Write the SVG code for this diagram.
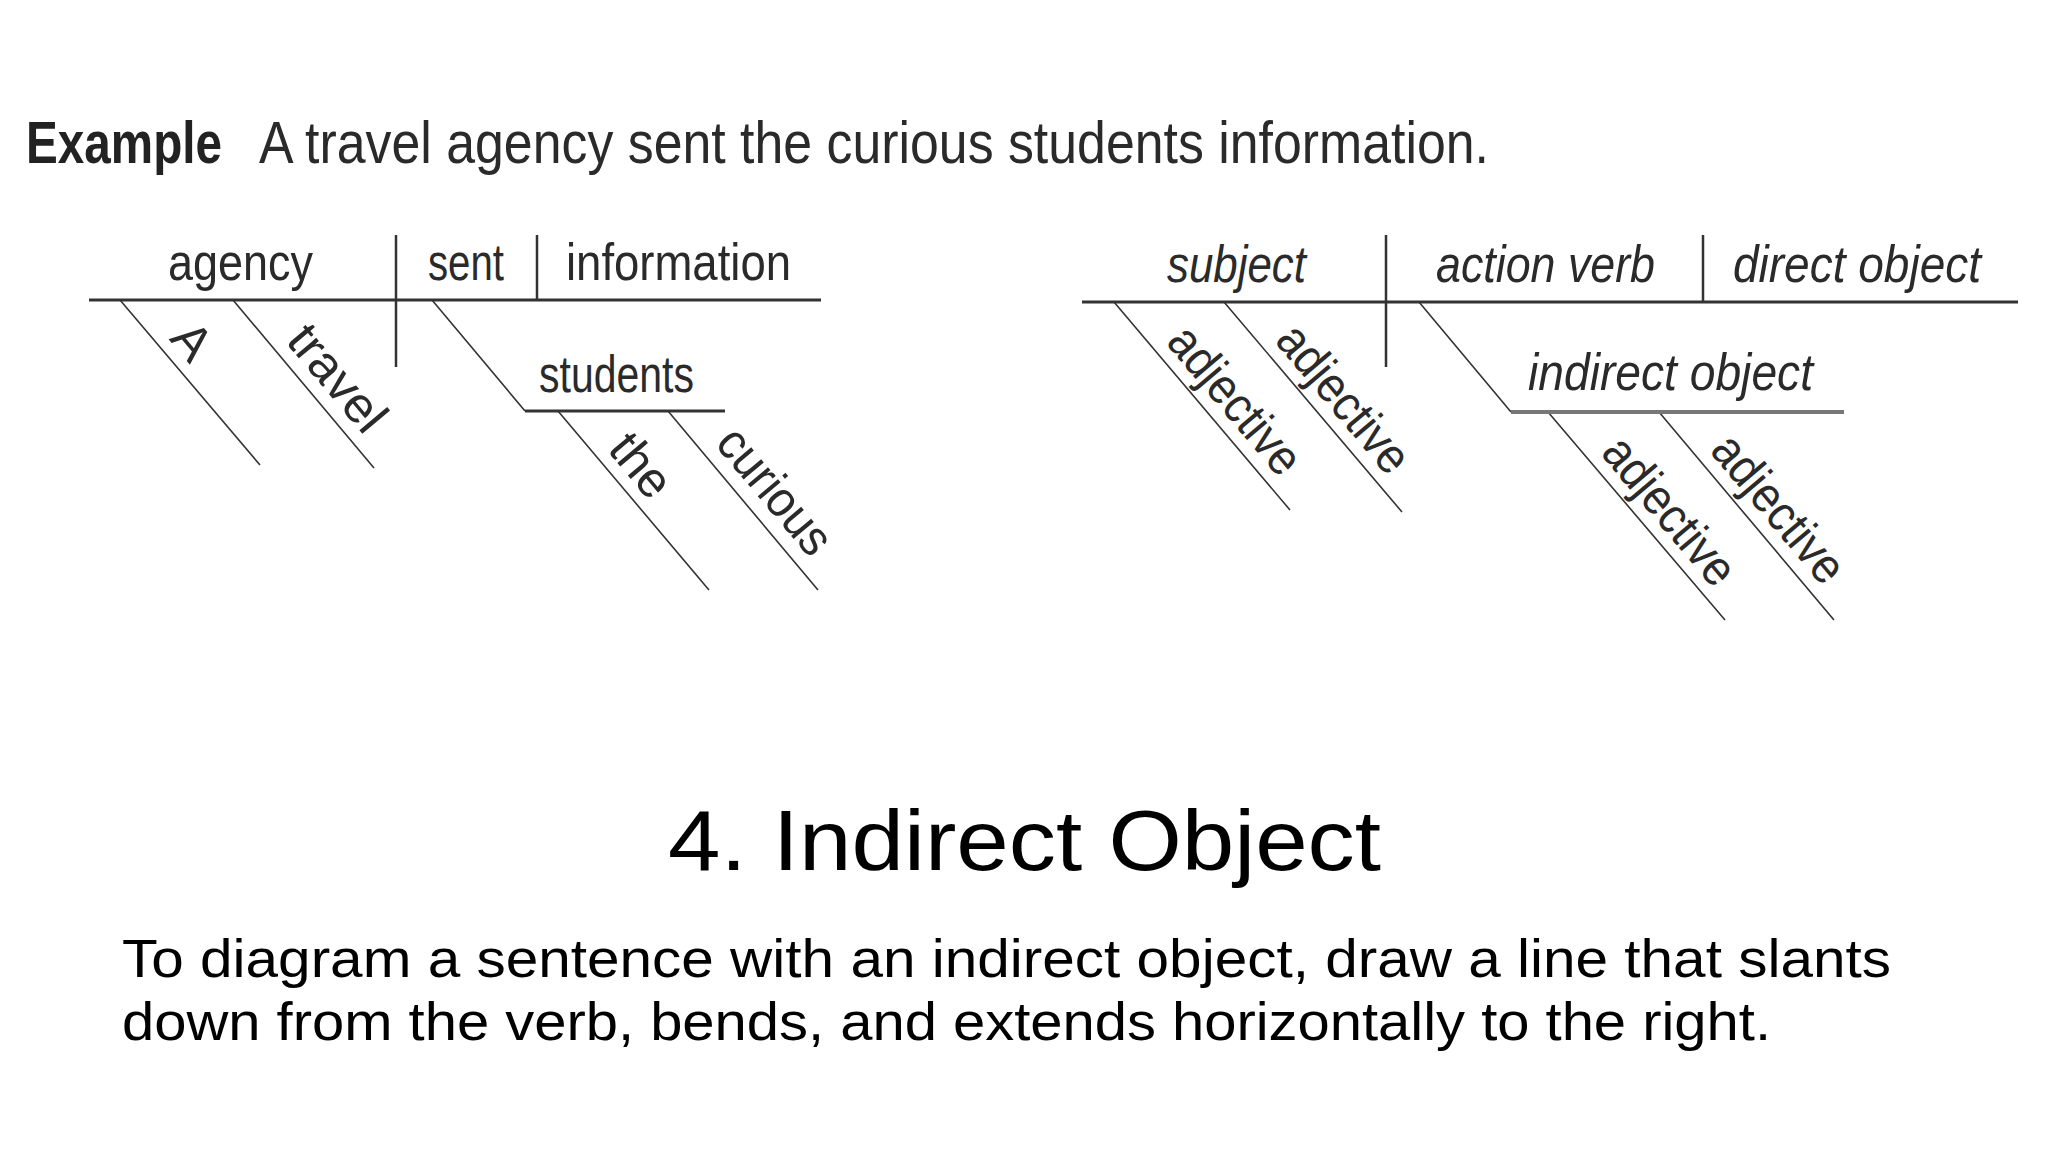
<svg xmlns="http://www.w3.org/2000/svg" width="2048" height="1152" viewBox="0 0 2048 1152">
<style>
.lbl{font-family:"Liberation Sans",Arial,sans-serif;fill:#2a2a2a;font-size:52px}
.ttl{font-family:"Liberation Sans",Arial,sans-serif;fill:#2a2a2a;font-size:60px}
.it{font-style:italic}
.rot{font-family:"Liberation Sans",Arial,sans-serif;fill:#2a2a2a;font-size:50px;text-anchor:middle}
.main{stroke:#333;stroke-width:3;fill:none}
.div{stroke:#333;stroke-width:2.5;fill:none}
.sl{stroke:#333;stroke-width:1.6;fill:none}
.body{font-family:"Liberation Sans",Arial,sans-serif;fill:#000}
</style>
<rect width="2048" height="1152" fill="#fff"/>
<g id="title">
<text class="ttl" x="26" y="163" style="font-weight:bold;fill:#222" textLength="196" lengthAdjust="spacingAndGlyphs">Example</text>
<text class="ttl" x="259" y="163" textLength="1230" lengthAdjust="spacingAndGlyphs">A travel agency sent the curious students information.</text>
</g>
<g id="connectors">
<path class="main" d="M89 300H821"/>
<path class="div" d="M396 235V367M537 235V300"/>
<path class="sl" d="M120 300L260 465M233 300L374 468M432 300L525 411M558 411L709 590M668 411L818 590"/>
<path class="main" d="M525 411H725"/>
<path class="main" d="M1082 302H2018"/>
<path class="div" d="M1386 235V367M1703 235V302"/>
<path class="sl" d="M1114 302L1290 510M1224 302L1402 512M1419 302L1511 412M1548 412L1725 620M1659 412L1834 620"/>
<path d="M1511 412H1844" stroke="#777" stroke-width="4" fill="none"/>
</g>
<g id="left-diagram">
<g id="n-agency"><text class="lbl" x="168" y="280" textLength="145" lengthAdjust="spacingAndGlyphs">agency</text></g>
<g id="n-sent"><text class="lbl" x="428" y="280" textLength="76" lengthAdjust="spacingAndGlyphs">sent</text></g>
<g id="n-information"><text class="lbl" x="566" y="280" textLength="225" lengthAdjust="spacingAndGlyphs">information</text></g>
<g id="n-students"><text class="lbl" x="539" y="392" textLength="155" lengthAdjust="spacingAndGlyphs">students</text></g>
<g id="n-A" transform="translate(120 300) rotate(50)"><text class="rot" x="78" y="-12">A</text></g>
<g id="n-travel" transform="translate(233 300) rotate(50)"><text class="rot" x="127" y="-13" textLength="124" lengthAdjust="spacingAndGlyphs">travel</text></g>
<g id="n-the" transform="translate(558 411) rotate(50)"><text class="rot" x="95" y="-12" textLength="68" lengthAdjust="spacingAndGlyphs">the</text></g>
<g id="n-curious" transform="translate(668 411) rotate(50)"><text class="rot" x="130" y="-14" textLength="150" lengthAdjust="spacingAndGlyphs">curious</text></g>
</g>
<g id="right-diagram">
<g id="n-subject"><text class="lbl it" x="1167" y="282" textLength="139" lengthAdjust="spacingAndGlyphs">subject</text></g>
<g id="n-action-verb"><text class="lbl it" x="1436" y="282" textLength="219" lengthAdjust="spacingAndGlyphs">action verb</text></g>
<g id="n-direct-object"><text class="lbl it" x="1733" y="282" textLength="248" lengthAdjust="spacingAndGlyphs">direct object</text></g>
<g id="n-indirect-object"><text class="lbl it" x="1528" y="390" textLength="285" lengthAdjust="spacingAndGlyphs">indirect object</text></g>
<g id="n-adj1" transform="translate(1114 302) rotate(50)"><text class="rot" x="153" y="-13" textLength="178" lengthAdjust="spacingAndGlyphs">adjective</text></g>
<g id="n-adj2" transform="translate(1224 302) rotate(50)"><text class="rot" x="151" y="-13" textLength="178" lengthAdjust="spacingAndGlyphs">adjective</text></g>
<g id="n-adj3" transform="translate(1548 412) rotate(50)"><text class="rot" x="154" y="-13" textLength="178" lengthAdjust="spacingAndGlyphs">adjective</text></g>
<g id="n-adj4" transform="translate(1659 412) rotate(50)"><text class="rot" x="151" y="-13" textLength="178" lengthAdjust="spacingAndGlyphs">adjective</text></g>
</g>
<g id="heading">
<text class="body" x="668" y="870" style="font-size:86px" textLength="713" lengthAdjust="spacingAndGlyphs">4. Indirect Object</text>
</g>
<g id="description">
<text class="body" x="122" y="977" style="font-size:54px" textLength="1769" lengthAdjust="spacingAndGlyphs">To diagram a sentence with an indirect object, draw a line that slants</text>
<text class="body" x="122" y="1040" style="font-size:54px" textLength="1649" lengthAdjust="spacingAndGlyphs">down from the verb, bends, and extends horizontally to the right.</text>
</g>
</svg>
